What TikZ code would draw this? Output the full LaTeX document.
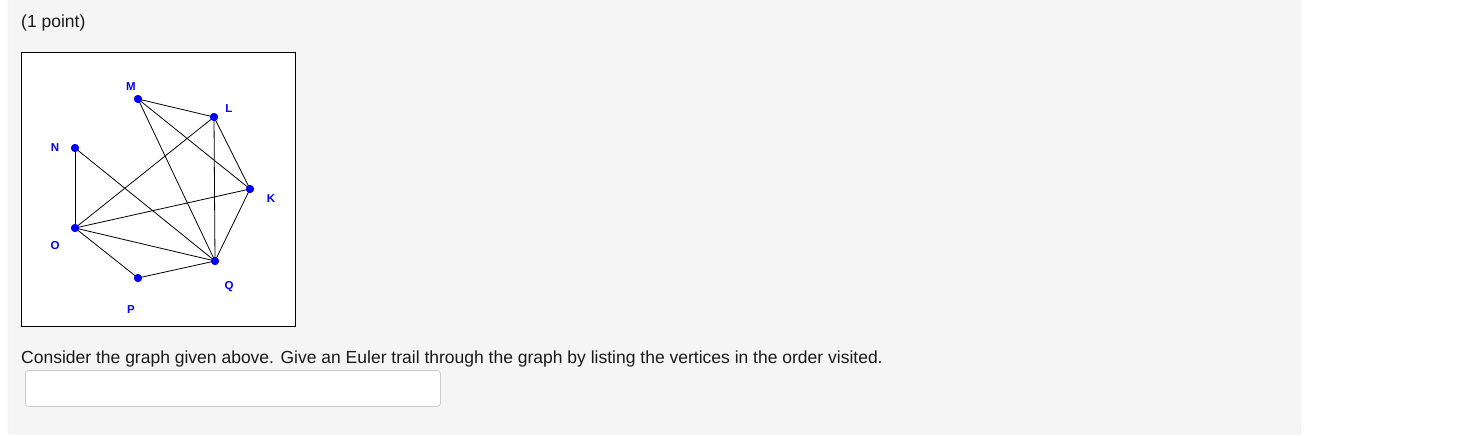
\documentclass[tikz,border=0pt]{standalone}
\usepackage{fontspec}
\setmainfont{Liberation Sans}
\begin{document}
\begin{tikzpicture}[x=1pt,y=-1pt,
  vtx/.style={circle,fill=vblue,inner sep=0pt,minimum size=8pt},
  vlab/.style={text=vblue,font=\fontsize{11.5}{13}\selectfont\bfseries,inner sep=0pt},
  edge/.style={draw=black,line width=0.8pt},
  body/.style={text=txt,font=\fontsize{17.5}{21}\selectfont,inner sep=0pt,anchor=base west}]
\definecolor{vblue}{RGB}{0,0,255}
\definecolor{panel}{RGB}{245,245,245}
\definecolor{pborder}{RGB}{227,227,227}
\definecolor{txt}{RGB}{26,26,26}
\definecolor{ibord}{RGB}{204,204,204}
\useasboundingbox (0,0) rectangle (1470,436);
\fill[white] (0,0) rectangle (1470,436);
\draw[fill=panel,draw=pborder,rounded corners=3pt] (8,-4) rectangle (1301,434);
\node[body] (pts) at (21,28) {(1 point)};
\node[draw=black,fill=white,line width=0.8pt,minimum width=274pt,minimum height=274pt,inner sep=0pt,anchor=north west] (frame) at (21,52) {};
\node[vtx] (M) at (138,99) {};
\node[vtx] (L) at (214,117) {};
\node[vtx] (N) at (75,148) {};
\node[vtx] (K) at (250,189) {};
\node[vtx] (O) at (75,228) {};
\node[vtx] (Q) at (215,261) {};
\node[vtx] (P) at (138,278) {};
\node[vlab] (lM) at (131,87) {M};
\node[vlab] (lL) at (229,109) {L};
\node[vlab] (lN) at (55,148) {N};
\node[vlab] (lK) at (271,199) {K};
\node[vlab] (lO) at (55,246) {O};
\node[vlab] (lQ) at (229,287) {Q};
\node[vlab] (lP) at (131,310) {P};
\draw[edge] (M.center) -- (L.center);
\draw[edge] (M.center) -- (K.center);
\draw[edge] (M.center) -- (Q.center);
\draw[edge] (L.center) -- (K.center);
\draw[edge] (L.center) -- (Q.center);
\draw[edge] (L.center) -- (O.center);
\draw[edge] (N.center) -- (O.center);
\draw[edge] (N.center) -- (Q.center);
\draw[edge] (K.center) -- (O.center);
\draw[edge] (K.center) -- (Q.center);
\draw[edge] (O.center) -- (Q.center);
\draw[edge] (O.center) -- (P.center);
\draw[edge] (P.center) -- (Q.center);
\foreach \v in {M,L,N,K,O,Q,P} \fill[vblue] (\v) circle (4pt);
\node[body] (q) at (21,363) {Consider the graph given above. Give an Euler trail through the graph by listing the vertices in the order visited.};
\node[draw=ibord,fill=white,rounded corners=3pt,minimum width=415pt,minimum height=36pt,inner sep=0pt,anchor=north west,line width=0.8pt] (ans) at (25,370) {};
\end{tikzpicture}
\end{document}
